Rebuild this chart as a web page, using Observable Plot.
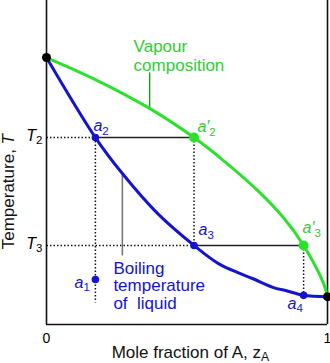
<!DOCTYPE html>
<html><head><meta charset="utf-8">
<script src="https://cdn.jsdelivr.net/npm/d3@7"></script>
<script src="https://cdn.jsdelivr.net/npm/@observablehq/plot@0.6"></script>
<style>
body{margin:0;background:#fff;}
</style></head><body><div id="chart"></div>
<script>
// ---- data (mole fraction of A, temperature in arbitrary units) ----
const liquidX = [0, 0.174, 0.270, 0.395, 0.525, 0.612, 0.690, 0.733, 0.808, 0.851, 0.915, 1];
const liquidT = [82.4, 57.7, 46.6, 34.3, 24.4, 18.8, 15.7, 14.2, 11.4, 10.5, 9.0, 8.6];
const vapourX = [0, 0.174, 0.367, 0.525, 0.630, 0.751, 0.843, 0.915, 0.986, 1];
const vapourT = [82.4, 75.6, 66.7, 57.7, 50.6, 41.4, 33.0, 24.4, 12.7, 8.6];

const T2 = 57.7, T3 = 24.4;
const tempTicks = [T2, T3];
const tempTickLabels = ["*T*_2", "*T*_3"];
const xTicks = [0, 1];

const liqPtName = ["*a*_1", "*a*_2", "*a*_3", "*a*_4"];
const liqPtX = [0.174, 0.174, 0.525, 0.915];
const liqPtT = [13.9, T2, T3, 9.0];
const liqLabX = [0.100, 0.167, 0.541, 0.858];
const liqLabT = [11.4, 59.6, 27.5, 4.9];

const vapPtName = ["*a′*_2", "*a′*_3"];
const vapPtX = [0.525, 0.915];
const vapPtT = [T2, T3];
const vapLabX = [0.537, 0.911];
const vapLabT = [59.3, 28.1];

const pureX = [0, 1];
const pureT = [82.4, 8.6];

// dotted construction lines [x1, T1, x2, T2]
const dottedSegs = [[0, T2, 0.174, T2], [0, T3, 0.525, T3], [0.174, T2, 0.174, 6.8], [0.525, T2, 0.525, T3], [0.915, T3, 0.915, 9.0]];
// tie lines
const tieSegs = [[0.174, T2, 0.525, T2], [0.525, T3, 0.915, T3]];

const vapourNote = "Vapour\ncomposition";
const vapourNotePos = [0.310, 88.3];
const vapourLeader = [0.367, 77.8, 0.367, 66.7];
const liquidNote = "Boiling\ntemperature\nof\u00a0\u00a0liquid";
const liquidNotePos = [0.238, 19.4];
const liquidLeader = [0.270, 46.6, 0.270, 21.3];

const xTitle = "Mole fraction of A, z_A";
const xTitlePos = [0.512, -10.2];
const yTitle = "Temperature, *T*";
const yTitlePos = [-0.117, 41];

// ---- build tables ----
const liquid = liquidX.map((x, i) => ({x, T: liquidT[i]}));
const vapour = vapourX.map((x, i) => ({x, T: vapourT[i]}));
const liqPts = liqPtX.map((x, i) => ({x, T: liqPtT[i], name: liqPtName[i], lx: liqLabX[i], lT: liqLabT[i]}));
const vapPts = vapPtX.map((x, i) => ({x, T: vapPtT[i], name: vapPtName[i], lx: vapLabX[i], lT: vapLabT[i]}));
const pure = pureX.map((x, i) => ({x, T: pureT[i]}));
const seg = s => ({x1: s[0], y1: s[1], x2: s[2], y2: s[3]});

const BLUE = "#1414cc", GREEN = "#2ee02e", GREENTXT = "#33cc33";

const plot = Plot.plot({
  width: 330, height: 363,
  marginLeft: 46, marginRight: 3, marginTop: 0, marginBottom: 39,
  x: {domain: [0, 1]},
  y: {domain: [0, 100]},
  style: {fontFamily: "'Liberation Sans', Arial, sans-serif", fontSize: "17px", background: "white", overflow: "visible"},
  marks: [
    Plot.ruleX(xTicks, {stroke: "#111", strokeWidth: 1.6}),
    Plot.ruleY([0], {stroke: "#111", strokeWidth: 1.6}),
    Plot.axisX({ticks: xTicks, tickSize: 0, tickPadding: 9, fontSize: 14, label: null, tickFormat: d => String(d)}),
    Plot.axisY({ticks: tempTicks, tickSize: 0, tickPadding: 4, fontSize: 16, label: null, dy: -2,
      tickFormat: d => tempTickLabels[tempTicks.indexOf(d)]}),
    Plot.link(dottedSegs.map(seg), {x1: "x1", y1: "y1", x2: "x2", y2: "y2", stroke: "#111", strokeWidth: 1.5, strokeDasharray: "1.5,2"}),
    Plot.link(tieSegs.map(seg), {x1: "x1", y1: "y1", x2: "x2", y2: "y2", stroke: "#222", strokeWidth: 1.6}),
    Plot.link([seg(vapourLeader)], {x1: "x1", y1: "y1", x2: "x2", y2: "y2", stroke: "#2a9a2a", strokeWidth: 1.5}),
    Plot.link([seg(liquidLeader)], {x1: "x1", y1: "y1", x2: "x2", y2: "y2", stroke: "#777", strokeWidth: 1.6}),
    Plot.line(vapour, {x: "x", y: "T", curve: "catmull-rom", stroke: GREEN, strokeWidth: 3}),
    Plot.line(liquid, {x: "x", y: "T", curve: "catmull-rom", stroke: BLUE, strokeWidth: 3}),
    Plot.dot(liqPts, {x: "x", y: "T", r: 3.8, fill: BLUE}),
    Plot.dot(vapPts, {x: "x", y: "T", r: 5, fill: GREEN}),
    Plot.dot(pure, {x: "x", y: "T", r: 4.5, fill: "#000"}),
    Plot.text(liqPts, {x: "lx", y: "lT", text: "name", fill: BLUE, fontSize: 16, textAnchor: "start", lineAnchor: "bottom"}),
    Plot.text(vapPts, {x: "lx", y: "lT", text: "name", fill: GREENTXT, fontSize: 16, textAnchor: "start", lineAnchor: "bottom"}),
    Plot.text([vapourNote], {x: vapourNotePos[0], y: vapourNotePos[1], text: d => d, fill: GREENTXT, fontSize: 17, lineHeight: 1.12, textAnchor: "start", lineAnchor: "top"}),
    Plot.text([liquidNote], {x: liquidNotePos[0], y: liquidNotePos[1], text: d => d, fill: BLUE, fontSize: 17, lineHeight: 1.02, textAnchor: "start", lineAnchor: "top"}),
    Plot.text([xTitle], {x: xTitlePos[0], y: xTitlePos[1], text: d => d, fill: "#111", fontSize: 17, textAnchor: "middle", lineAnchor: "bottom"}),
    Plot.text([yTitle], {x: yTitlePos[0], y: yTitlePos[1], text: d => d, fill: "#111", fontSize: 17, textAnchor: "middle", lineAnchor: "bottom", rotate: -90})
  ]
});

// rich text: *italic*, _subscript
const NS = "http://www.w3.org/2000/svg";
function rich(el, s) {
  el.textContent = "";
  const re = /\*([^*]+)\*|_(\S+)|([^*_]+)/g;
  let m;
  while ((m = re.exec(s))) {
    const t = document.createElementNS(NS, "tspan");
    if (m[1] !== undefined) { t.setAttribute("font-style", "italic"); t.textContent = m[1]; }
    else if (m[2] !== undefined) {
      t.setAttribute("font-size", "72%");
      t.setAttribute("dy", "0.32em");
      t.textContent = m[2];
    } else { t.textContent = m[3]; }
    el.appendChild(t);
  }
}
d3.select(plot).selectAll("text").each(function () {
  if (this.querySelector("tspan")) return;
  const s = this.textContent;
  if (/[*_]/.test(s)) rich(this, s);
});
document.getElementById("chart").appendChild(plot);
</script></body></html>
